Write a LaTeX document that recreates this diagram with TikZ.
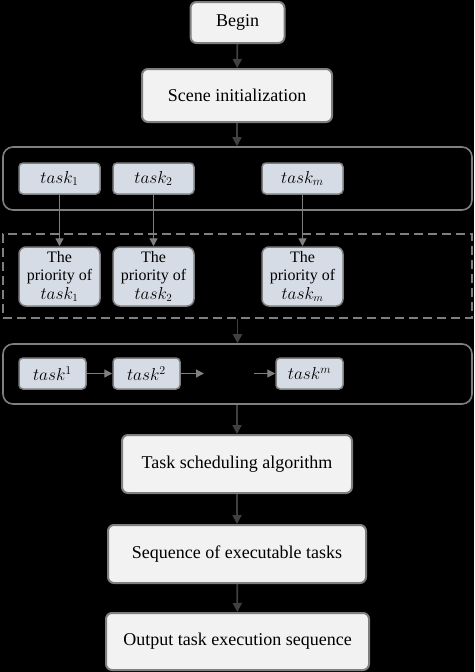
\documentclass[tikz,border=0pt]{standalone}
\usepackage{fontspec}
\setmainfont{Liberation Serif}
\usetikzlibrary{arrows.meta}
\definecolor{boxfill}{HTML}{F2F2F2}
\definecolor{taskfill}{HTML}{D6DCE5}
\definecolor{edgegray}{HTML}{7F7F7F}
\definecolor{arrowgray}{HTML}{404040}
\begin{document}
\begin{tikzpicture}[x=1pt,y=-1pt,
  mainbox/.style={draw=edgegray, fill=boxfill, line width=2pt, rounded corners=6pt, inner sep=0pt,
    font=\fontsize{18}{21}\selectfont, text=black},
  frame/.style={draw=edgegray, line width=1.6pt, rounded corners=10pt, inner sep=0pt},
  dframe/.style={draw=edgegray, line width=1.6pt, dash pattern=on 9pt off 5pt, inner sep=0pt},
  taskbox/.style={draw=edgegray, fill=taskfill, line width=1.5pt, rounded corners=4pt, inner sep=0pt,
    minimum width=81pt, minimum height=31pt, font=\fontsize{18}{20}\selectfont},
  ptaskbox/.style={taskbox, minimum width=67pt},
  prbox/.style={draw=edgegray, fill=taskfill, line width=1.5pt, rounded corners=7pt, inner sep=0pt,
    minimum width=81pt, minimum height=59pt, align=center, font=\fontsize{16}{18.3}\selectfont},
  mainarrow/.style={draw=arrowgray, line width=1.8pt, -{Triangle[length=9pt,width=9pt]}},
  subarrow/.style={draw=edgegray, line width=1.3pt, -{Triangle[length=8pt,width=8pt]}}
]
\useasboundingbox[fill=black] (0,0) rectangle (474,672);

\node[mainbox, minimum width=94pt, minimum height=41pt] (begin) at (237.5,22.5) {Begin};
\node[mainbox, minimum width=190pt, minimum height=53pt] (scene) at (237,95.5) {Scene initialization};

\node[frame, minimum width=469pt, minimum height=63pt] (box1) at (237.5,178.5) {};
\node[taskbox] (t1) at (59.5,178.5) {$task_1$};
\node[taskbox] (t2) at (153.5,178.5) {$task_2$};
\node[taskbox] (tm) at (302.5,178.5) {$task_m$};

\node[dframe, minimum width=469pt, minimum height=84pt] (dbox) at (237.5,276) {};
\node[prbox] (p1) at (59.5,276.5) {The\\priority of\\$task_1$};
\node[prbox] (p2) at (153.5,276.5) {The\\priority of\\$task_2$};
\node[prbox] (pm) at (302.5,276.5) {The\\priority of\\$task_m$};

\node[frame, minimum width=469pt, minimum height=60pt] (box2) at (237.5,374) {};
\node[ptaskbox] (s1) at (52.5,373.5) {$task^1$};
\node[ptaskbox] (s2) at (146.5,373.5) {$task^2$};
\node[ptaskbox] (sm) at (309.5,373.5) {$task^m$};
\coordinate (gapa) at (204,373.5);
\coordinate (gapb) at (254,373.5);

\node[mainbox, minimum width=230pt, minimum height=58pt] (sched) at (237,464) {Task scheduling algorithm};
\node[mainbox, minimum width=258pt, minimum height=58pt] (seq) at (237,554) {Sequence of executable tasks};
\node[mainbox, minimum width=263pt, minimum height=57pt] (out) at (237.5,641.5) {Output task execution sequence};

\draw[mainarrow] (begin) -- (scene);
\draw[mainarrow] (scene.south) -- (box1.north -| scene.south);
\draw[subarrow] (t1) -- (p1);
\draw[subarrow] (t2) -- (p2);
\draw[subarrow] (tm) -- (pm);
\draw[mainarrow] (dbox.south) -- (box2.north);
\draw[subarrow] (s1) -- (s2);
\draw[subarrow] (s2) -- (gapa);
\draw[subarrow] (gapb) -- (sm);
\draw[mainarrow] (box2.south -| sched.north) -- (sched.north);
\draw[mainarrow] (sched) -- (seq);
\draw[mainarrow] (seq) -- (out);
\end{tikzpicture}
\end{document}
